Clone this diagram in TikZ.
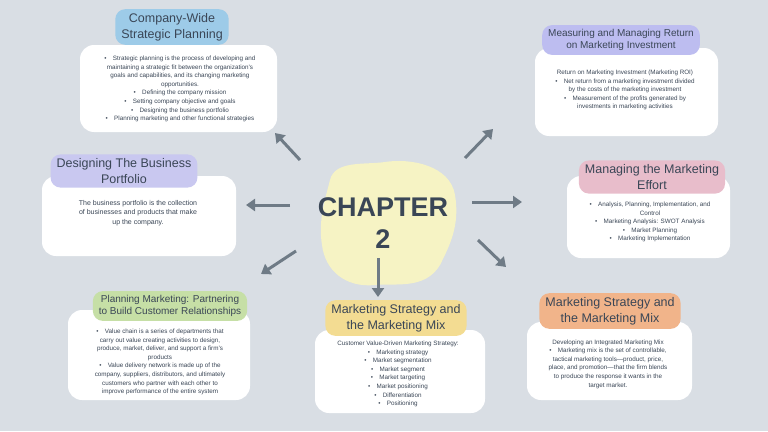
\documentclass[tikz,border=0pt]{standalone}
\usepackage{fontspec}
\setmainfont{Liberation Sans}
\usetikzlibrary{arrows.meta}
\definecolor{bg}{HTML}{D9DEE4}
\definecolor{ink}{HTML}{3A4656}
\definecolor{blob}{HTML}{F6F3C4}
\definecolor{cblue}{HTML}{9DCBE8}
\definecolor{cpurp}{HTML}{C9C8F0}
\definecolor{cviol}{HTML}{BDBDF0}
\definecolor{cpink}{HTML}{E8BDCB}
\definecolor{cgreen}{HTML}{C6DFA6}
\definecolor{cyell}{HTML}{F3DC92}
\definecolor{corng}{HTML}{F1B48A}
\definecolor{arr}{HTML}{6F7B86}
\tikzset{
 card/.style={fill=white,rounded corners=14pt,inner sep=0pt},
 ttl/.style={rounded corners=10pt,inner xsep=6pt,inner ysep=4pt,align=center,font=\fontsize{12.5}{16}\selectfont,text=ink},
 body/.style={align=center,font=\fontsize{6.3}{8.6}\selectfont,text=ink,inner sep=0pt},
 link/.style={draw=arr,line width=3pt,-{Triangle[length=9pt,width=12pt]}}
}
\begin{document}
\begin{tikzpicture}[x=1pt,y=-1pt]
\fill[bg] (0,0) rectangle (768,431);
\useasboundingbox (0,0) rectangle (768,431);
% center blob
\fill[blob] (330,180) .. controls (335,160) and (365,165) .. (385,162)
 .. controls (410,158) and (450,165) .. (455,195)
 .. controls (460,225) and (450,245) .. (440,265)
 .. controls (425,290) and (395,283) .. (375,285)
 .. controls (345,288) and (325,270) .. (322,245)
 .. controls (318,220) and (325,200) .. (330,180) -- cycle;
\node[font=\fontsize{27}{32}\selectfont\bfseries,text=ink,align=center] (c) at (383,223) {CHAPTER\\2};
% TL
\fill[card] (80,45) rectangle (277,132);
\node[ttl,fill=cblue] (t1) at (172,27) {Company-Wide\\Strategic Planning};
\node[body] (b1) at (180,89) {\textbullet\quad Strategic planning is the process of developing and\\maintaining a strategic fit between the organization's\\goals and capabilities, and its changing marketing\\opportunities.\\\textbullet\quad Defining the company mission\\\textbullet\quad Setting company objective and goals\\\textbullet\quad Designing the business portfolio\\\textbullet\quad Planning marketing and other functional strategies};
% L
\fill[card] (42,176) rectangle (236,256);
\node[ttl,fill=cpurp] (t2) at (124,171) {Designing The Business\\Portfolio};
\node[body,font=\fontsize{7}{9.5}\selectfont] (b2) at (138,213) {The business portfolio is the collection\\of businesses and products that make\\up the company.};
% TR
\fill[card] (535,48) rectangle (718,136);
\node[ttl,fill=cviol,font=\fontsize{10}{12.5}\selectfont] (t3) at (621,40) {Measuring and Managing Return\\on Marketing Investment};
\node[body] (b3) at (625,90) {Return on Marketing Investment (Marketing ROI)\\\textbullet\quad Net return from a marketing investment divided\\by the costs of the marketing investment\\\textbullet\quad Measurement of the profits generated by\\investments in marketing activities};
% R
\fill[card] (567,176) rectangle (730,258);
\node[ttl,fill=cpink] (t4) at (652,177) {Managing the Marketing\\Effort};
\node[body] (b4) at (650,222) {\textbullet\quad Analysis, Planning, Implementation, and\\Control\\\textbullet\quad Marketing Analysis: SWOT Analysis\\\textbullet\quad Market Planning\\\textbullet\quad Marketing Implementation};
% BL
\fill[card] (68,310) rectangle (250,400);
\node[ttl,fill=cgreen,font=\fontsize{10}{12.5}\selectfont] (t5) at (170,306) {Planning Marketing: Partnering\\to Build Customer Relationships};
\node[body] (b5) at (160,362) {\textbullet\quad Value chain is a series of departments that\\carry out value creating activities to design,\\produce, market, deliver, and support a firm's\\products\\\textbullet\quad Value delivery network is made up of the\\company, suppliers, distributors, and ultimately\\customers who partner with each other to\\improve performance of the entire system};
% B
\fill[card] (315,330) rectangle (485,413);
\node[ttl,fill=cyell] (t6) at (396,318) {Marketing Strategy and\\the Marketing Mix};
\node[body] (b6) at (398,374) {Customer Value-Driven Marketing Strategy:\\\textbullet\quad Marketing strategy\\\textbullet\quad Market segmentation\\\textbullet\quad Market segment\\\textbullet\quad Market targeting\\\textbullet\quad Market positioning\\\textbullet\quad Differentiation\\\textbullet\quad Positioning};
% BR
\fill[card] (527,322) rectangle (692,400);
\node[ttl,fill=corng] (t7) at (610,311) {Marketing Strategy and\\the Marketing Mix};
\node[body] (b7) at (608,364) {Developing an Integrated Marketing Mix\\\textbullet\quad Marketing mix is the set of controllable,\\tactical marketing tools---product, price,\\place, and promotion---that the firm blends\\to produce the response it wants in the\\target market.};
% arrows
\coordinate (a1s) at (300,160); \coordinate (a1e) at (275,133);
\coordinate (a2s) at (290,205); \coordinate (a2e) at (246,205);
\coordinate (a3s) at (296,251); \coordinate (a3e) at (261,274);
\coordinate (a4s) at (378,258); \coordinate (a4e) at (378,297);
\coordinate (a5s) at (465,158); \coordinate (a5e) at (493,129);
\coordinate (a6s) at (472,202); \coordinate (a6e) at (522,202);
\coordinate (a7s) at (478,240); \coordinate (a7e) at (506,267);
\foreach \i in {1,...,7} \draw[link] (a\i s) -- (a\i e);
\end{tikzpicture}
\end{document}
